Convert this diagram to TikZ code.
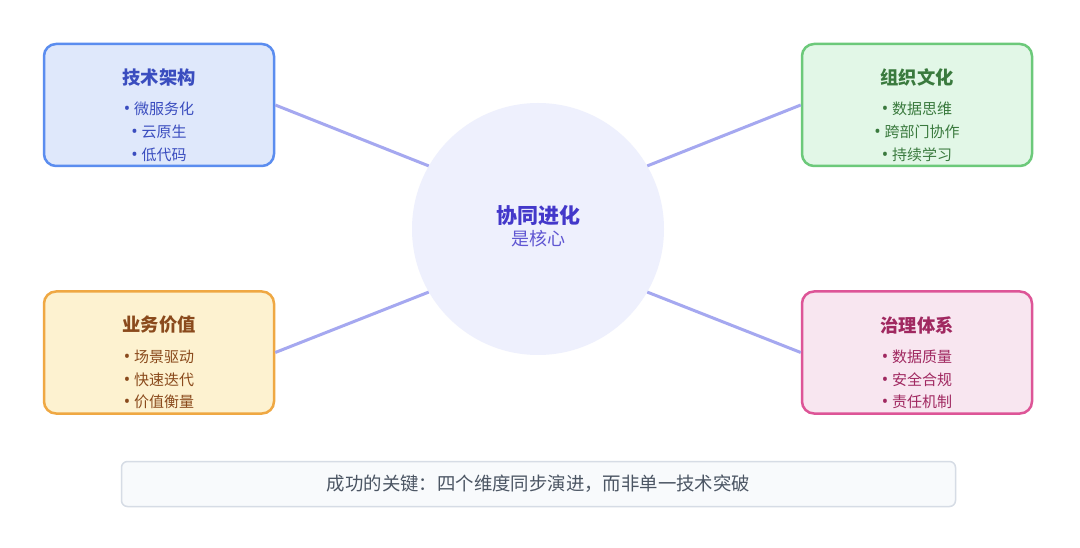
\documentclass[tikz,border=0pt]{standalone}
\usepackage{fontspec}
\setmainfont{Noto Sans CJK SC}
\newfontfamily\dotfont{Noto Sans}
\definecolor{bluef}{HTML}{DFE8FB}
\definecolor{bluec}{HTML}{5B8DEF}
\definecolor{bluet}{HTML}{3A4DBF}
\definecolor{greenf}{HTML}{E2F7E7}
\definecolor{greenc}{HTML}{6CC97A}
\definecolor{greent}{HTML}{3A7A3E}
\definecolor{orangef}{HTML}{FDF2D0}
\definecolor{orangec}{HTML}{EFA843}
\definecolor{oranget}{HTML}{8A4A1C}
\definecolor{pinkf}{HTML}{F8E6F0}
\definecolor{pinkc}{HTML}{DD5597}
\definecolor{pinkt}{HTML}{A02860}
\definecolor{corefill}{HTML}{EEF0FD}
\definecolor{coretxt}{HTML}{4338CA}
\definecolor{linkc}{HTML}{A5A8F0}
\definecolor{barfill}{HTML}{F8FAFC}
\definecolor{barline}{HTML}{D6DCE5}
\definecolor{bartxt}{HTML}{4B5563}
\newcommand{\itemdot}{{\dotfont\fontsize{17}{18}\selectfont •}\hspace{4pt}}
\tikzset{
  panel/.style={draw=#1, line width=2.5, rounded corners=12,
    minimum width=230, minimum height=122, inner sep=0},
  headtxt/.style={font=\fontsize{18.3}{21}\selectfont\bfseries, inner sep=0},
  itemtxt/.style={font=\fontsize{15}{18}\selectfont, inner sep=0},
  link/.style={draw=linkc, line width=3},
}
\begin{document}
\begin{tikzpicture}[x=1pt, y=-1pt]

  \useasboundingbox[fill=white] (0,0) rectangle (1080,548);

  % the core in the middle
  \node[circle, fill=corefill, minimum size=252, inner sep=0] (core) at (538,229) {};
  \node[font=\fontsize{21}{24}\selectfont\bfseries, text=coretxt, inner sep=0]
    (corehead) at (538,215.5) {协同进化};
  \node[font=\fontsize{18}{21}\selectfont, text=coretxt!85!white, inner sep=0]
    (coresub) at (538,239) {是核心};

  % four panels
  \node[panel=bluec, fill=bluef] (tech) at (159,105) {};
  \node[headtxt, text=bluet] (techhead) at (159,77.5) {技术架构};
  \foreach \t [count=\i] in {微服务化,云原生,低代码}
  {
    \node[itemtxt, text=bluet] (techitem\i) at (159,86.5+22.7*\i) {\itemdot\t};
  }

  \node[panel=greenc, fill=greenf] (org) at (917,105) {};
  \node[headtxt, text=greent] (orghead) at (917,77.5) {组织文化};
  \foreach \t [count=\i] in {数据思维,跨部门协作,持续学习}
  {
    \node[itemtxt, text=greent] (orgitem\i) at (917,86.5+22.7*\i) {\itemdot\t};
  }

  \node[panel=orangec, fill=orangef] (biz) at (159,352.5) {};
  \node[headtxt, text=oranget] (bizhead) at (159,325) {业务价值};
  \foreach \t [count=\i] in {场景驱动,快速迭代,价值衡量}
  {
    \node[itemtxt, text=oranget] (bizitem\i) at (159,334+22.7*\i) {\itemdot\t};
  }

  \node[panel=pinkc, fill=pinkf] (gov) at (917,352.5) {};
  \node[headtxt, text=pinkt] (govhead) at (917,325) {治理体系};
  \foreach \t [count=\i] in {数据质量,安全合规,责任机制}
  {
    \node[itemtxt, text=pinkt] (govitem\i) at (917,334+22.7*\i) {\itemdot\t};
  }

  % links to the core
  \draw[link] (tech.east) -- (core.150);
  \draw[link] (org.west) -- (core.30);
  \draw[link] (biz.east) -- (core.210);
  \draw[link] (gov.west) -- (core.330);

  % the note at the bottom
  \node[draw=barline, fill=barfill, line width=1.5, rounded corners=6,
    minimum width=834, minimum height=45, inner sep=0,
    font=\fontsize{18.4}{21}\selectfont, text=bartxt]
    (note) at (538.5,484) {成功的关键：四个维度同步演进，而非单一技术突破};

\end{tikzpicture}
\end{document}
